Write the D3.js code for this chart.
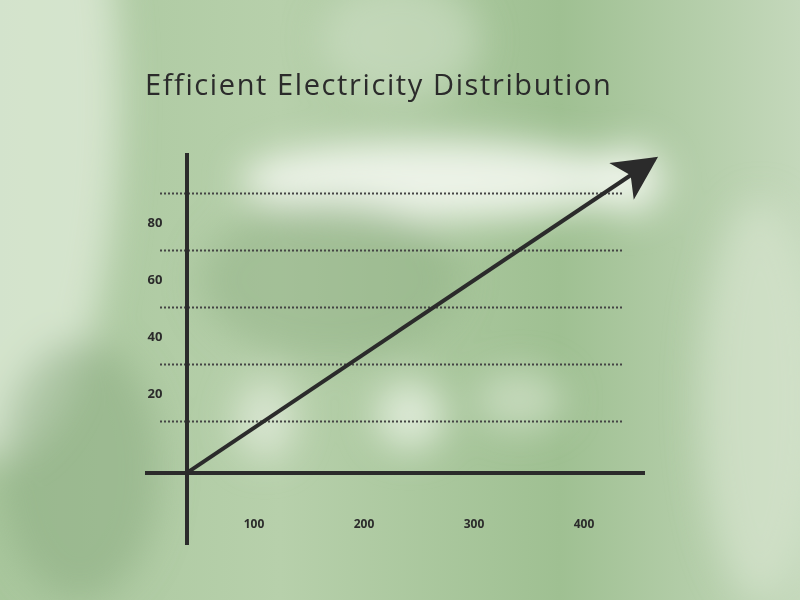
<!DOCTYPE html>
<html><head><meta charset="utf-8">
<script src="https://cdn.jsdelivr.net/npm/d3@7"></script>
<style>body{margin:0;overflow:hidden}</style>
</head><body><div id="chart"></div>
<script>
const title = "Efficient Electricity Distribution";
const yTicks = [20, 40, 60, 80];
const xTicks = [100, 200, 300, 400];
const gridValues = [10, 30, 50, 70, 90];
const arrowPoints = [[39, -8], [464, 102]];

const W = 800, H = 600;
const svg = d3.select("#chart").append("svg").attr("width", W).attr("height", H);
const defs = svg.append("defs");

// background
const bg = defs.append("linearGradient").attr("id", "bg").attr("x1", 0).attr("x2", 1).attr("y1", 0).attr("y2", 0);
bg.append("stop").attr("offset", "0%").attr("stop-color", "#a9c79d");
bg.append("stop").attr("offset", "35%").attr("stop-color", "#b7d0ab");
bg.append("stop").attr("offset", "70%").attr("stop-color", "#9fc092");
bg.append("stop").attr("offset", "100%").attr("stop-color", "#c4d8bb");
svg.append("rect").attr("width", W).attr("height", H).attr("fill", "url(#bg)");
defs.append("filter").attr("id", "blur").attr("x", "-50%").attr("y", "-50%").attr("width", "200%").attr("height", "200%")
  .append("feGaussianBlur").attr("stdDeviation", 18);
const blobs = [
  [0, 100, 120, 360, "#e6efe0", 0.7], [440, 180, 200, 40, "#f3f7ef", 0.9], [630, 180, 35, 35, "#f4f8f0", 0.8],
  [410, 415, 35, 35, "#e9f1e3", 0.8], [265, 420, 30, 40, "#e6eedf", 0.7], [520, 400, 45, 30, "#dbe8d4", 0.6],
  [330, 280, 130, 80, "#8fb083", 0.5], [80, 470, 80, 130, "#8aa97f", 0.5], [760, 400, 60, 200, "#d8e6d1", 0.6],
  [400, 40, 80, 60, "#cfe0c6", 0.6]
];
const bgG = svg.append("g").attr("filter", "url(#blur)");
bgG.selectAll("ellipse").data(blobs).join("ellipse")
  .attr("cx", d => d[0]).attr("cy", d => d[1]).attr("rx", d => d[2]).attr("ry", d => d[3])
  .attr("fill", d => d[4]).attr("opacity", d => d[5]);

const x = d3.scaleLinear().domain([0, 400]).range([144, 584]);
const y = d3.scaleLinear().domain([0, 80]).range([450, 222]);
const ink = "#2b2b2b";

svg.append("text").attr("x", 145).attr("y", 95).attr("fill", ink)
  .attr("font-family", "'Open Sans', sans-serif").attr("font-size", 29).attr("letter-spacing", 1.6).text(title);

svg.selectAll(".grid").data(gridValues).join("line").attr("class", "grid")
  .attr("x1", 160).attr("x2", 622).attr("y1", d => y(d)).attr("y2", d => y(d))
  .attr("stroke", "#444").attr("stroke-width", 2).attr("stroke-dasharray", "2,2");

svg.append("line").attr("x1", 187).attr("x2", 187).attr("y1", 153).attr("y2", 545).attr("stroke", ink).attr("stroke-width", 4);
svg.append("line").attr("x1", 145).attr("x2", 645).attr("y1", 473).attr("y2", 473).attr("stroke", ink).attr("stroke-width", 4);

svg.selectAll(".yl").data(yTicks).join("text").attr("class", "yl")
  .attr("x", 155).attr("y", d => y(d)).attr("dy", "0.35em").attr("text-anchor", "middle")
  .attr("font-family", "'Open Sans', sans-serif").attr("font-weight", 700).attr("font-size", 13).attr("fill", ink).text(d => d);
svg.selectAll(".xl").data(xTicks).join("text").attr("class", "xl")
  .attr("x", d => x(d)).attr("y", 528).attr("text-anchor", "middle")
  .attr("font-family", "'Open Sans', sans-serif").attr("font-weight", 700).attr("font-size", 12).attr("fill", ink).text(d => d);

defs.append("marker").attr("id", "head").attr("viewBox", "0 0 10 10").attr("refX", 9).attr("refY", 5)
  .attr("markerWidth", 14).attr("markerHeight", 11).attr("markerUnits", "strokeWidth").attr("orient", "auto")
  .append("path").attr("d", "M0,0 L10,5 L0,10 L2.5,5 Z").attr("fill", ink);
svg.append("path").datum(arrowPoints)
  .attr("d", d3.line().x(d => x(d[0])).y(d => y(d[1])))
  .attr("stroke", ink).attr("stroke-width", 4).attr("fill", "none").attr("marker-end", "url(#head)");
</script></body></html>
